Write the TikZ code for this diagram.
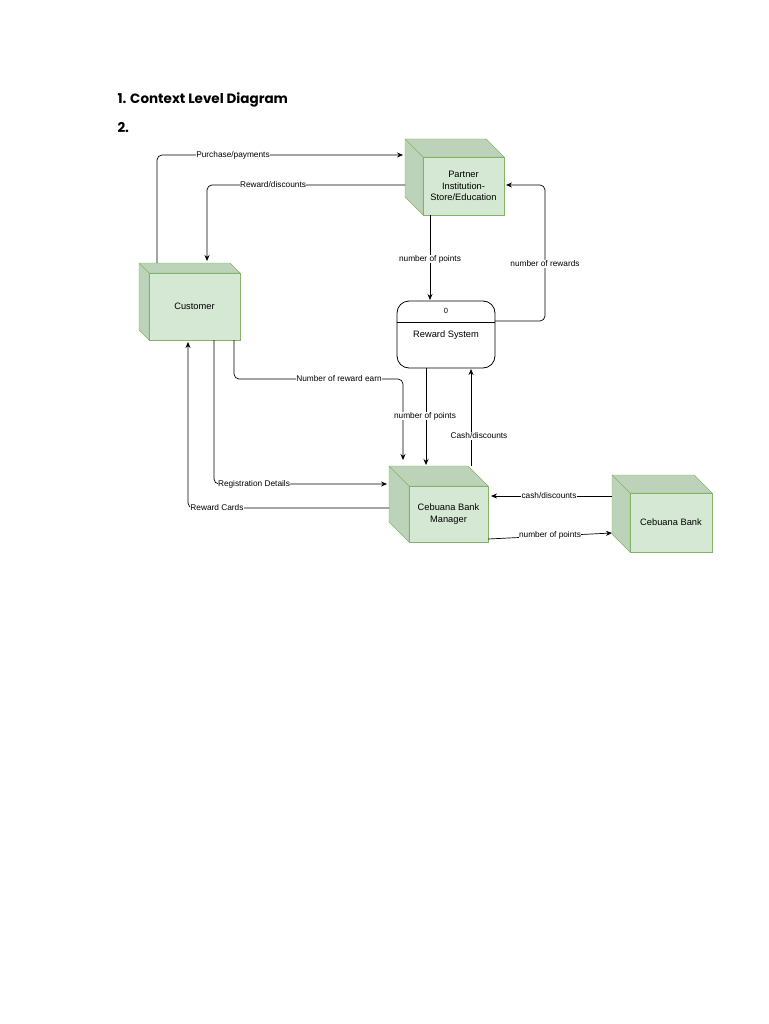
\documentclass[tikz,border=0pt]{standalone}
\usepackage{fontspec}
\setmainfont{Liberation Sans}
\newfontfamily\titlefont{Poppins}
\usetikzlibrary{arrows.meta}
\definecolor{gfront}{HTML}{D5E8D4}
\definecolor{gside}{HTML}{BCD3B9}
\definecolor{gline}{HTML}{82B366}
\tikzset{
  lbl/.style={fill=white,inner sep=0.5pt,font=\fontsize{8.3}{10}\selectfont},
  flow/.style={draw=black,line width=0.7pt,rounded corners=5pt,-{Stealth[length=6pt,width=5pt]}},
  boxtxt/.style={align=center,font=\fontsize{9.3}{11.5}\selectfont}
}
\newcommand{\cube}[6]{% name, x1, y1, x2, y2, depth
  \fill[gside,draw=gline] (#2,#3) -- (#4-#6,#3) -- (#4,#3+#6) -- (#2+#6,#3+#6) -- (#2+#6,#5) -- (#2,#5-#6) -- cycle;
  \draw[gline] (#2,#3) -- (#2+#6,#3+#6);
  \fill[gfront,draw=gline] (#2+#6,#3+#6) rectangle (#4,#5);
  \coordinate (#1) at ({(#2+#6+#4)/2},{(#3+#6+#5)/2});
}
\begin{document}
\begin{tikzpicture}[x=1pt,y=-1pt]
\useasboundingbox (0,0) rectangle (768,1024);
\fill[white] (0,0) rectangle (768,1024);
\node[anchor=west,font=\titlefont\bfseries\fontsize{13.5}{16}\selectfont] (t1) at (114,100) {1. Context Level Diagram};
\node[anchor=west,font=\titlefont\bfseries\fontsize{13.5}{16}\selectfont] (t2) at (114,128) {2.};

\cube{pc}{405}{139}{504}{215}{18}
\node[boxtxt] (p) at (pc) {Partner\\Institution-\\Store/Education};
\cube{cc}{139}{263}{240}{340}{10}
\node[boxtxt] (c) at (cc) {Customer};
\cube{mc}{389}{466}{488}{542}{20}
\node[boxtxt] (m) at (mc) {Cebuana Bank\\Manager};
\cube{bc}{612}{475}{712}{552}{18}
\node[boxtxt] (b) at (bc) {Cebuana Bank};

\draw[line width=0.8pt,rounded corners=12pt] (397,368) rectangle (495,301);
\draw[line width=0.8pt] (397,322) -- (495,322);
\node[font=\fontsize{7.5}{8}\selectfont] (r0) at (446,311) {0};
\node[boxtxt] (r) at (446,335) {Reward System};

\draw[flow] (157,263) |- (403,155);
\node[lbl] (l1) at (233,155) {Purchase/payments};
\draw[flow] (405,185) -| (207,261);
\node[lbl] (l2) at (273,185) {Reward/discounts};
\draw[flow] (430,215) -- (430,300);
\node[lbl] (l3) at (430,259) {number of points};
\draw[flow] (495,321) -| (545,185) -- (506,185);
\node[lbl] (l4) at (545,264) {number of rewards};
\draw[flow] (234,340) |- (403,379) -- (403,460);
\node[lbl] (l5) at (339,379) {Number of reward earn};
\draw[flow] (426,368) -- (426,465);
\node[lbl] (l6) at (425,416) {number of points};
\draw[flow] (471,466) -- (471,369);
\node[lbl] (l7) at (479,436) {Cash/discounts};
\draw[flow] (214,340) |- (387,484);
\node[lbl] (l8) at (254,484) {Registration Details};
\draw[flow] (389,508) -| (188,342);
\node[lbl] (l9) at (217,508) {Reward Cards};
\draw[flow] (612,496) -- (491,496);
\node[lbl] (l10) at (549,496) {cash/discounts};
\draw[flow] (488,539) -- (612,533);
\node[lbl] (l11) at (550,535.5) {number of points};
\end{tikzpicture}
\end{document}
